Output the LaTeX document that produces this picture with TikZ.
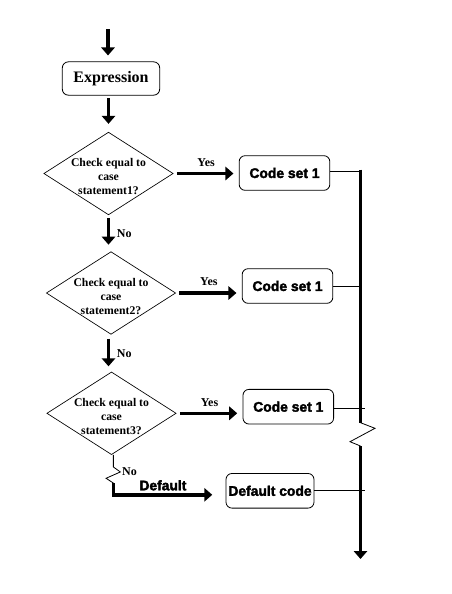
\documentclass[tikz,border=0pt]{standalone}
\usepackage{fontspec}
\setmainfont{Liberation Serif}
\newfontfamily\heavysans{Liberation Sans}[UprightFont={* Bold},FakeBold=2.5]
\usepackage{tikz}
\usetikzlibrary{shapes.geometric, arrows.meta}

\begin{document}
\begin{tikzpicture}[x=0.75pt, y=-0.75pt,
    box/.style={draw, rounded corners=4.5pt, line width=0.6pt, minimum height=26pt},
    codebox/.style={box, minimum width=68pt, inner sep=1pt, font=\heavysans\fontsize{10.4}{12}\selectfont},
    check/.style={diamond, draw, line width=0.5pt, inner sep=-30pt, minimum width=97pt, minimum height=62pt, align=center, font=\bfseries\fontsize{8.8}{10.6}\selectfont},
    flow/.style={line width=2.6pt, -{Triangle[width=10pt,length=6pt]}},
    link/.style={line width=0.6pt},
    lbl/.style={inner sep=1pt, font=\bfseries\fontsize{9}{10}\selectfont}]
        \useasboundingbox (0,0) rectangle (451,594);

        \coordinate (start) at (108,29);
        \node[box, minimum width=73pt, minimum height=25pt, font=\bfseries\fontsize{12}{14}\selectfont] (expr) at (111,78.5) {Expression};

        \node[check] (d1) at (108.5,173.5) {\rule{0pt}{11pt}Check equal to\\case\\statement1?};
        \node[check] (d2) at (111,293) {\rule{0pt}{11pt}Check equal to\\case\\statement2?};
        \node[check] (d3) at (111.5,413.3) {\rule{0pt}{11pt}Check equal to\\case\\statement3?};

        \node[codebox] (c1) at (284.5,173) {Code set 1};
        \node[codebox] (c2) at (287.5,286) {Code set 1};
        \node[codebox] (c3) at (288.3,406.7) {Code set 1};
        \node[codebox, minimum width=66pt] (dflt) at (270,490.8) {Default code};

        \draw[flow, shorten >=4.5pt] (start) -- (start |- expr.north);
        \draw[flow, shorten <=2pt, shorten >=6pt] (expr.south -| d1) -- (d1.north);

        \draw[flow, shorten <=2.5pt, shorten >=4pt] (d1.east) -- node[lbl, above=3pt] (yes1) {Yes} (d1.east -| c1.west);
        \draw[flow, shorten <=2.5pt, shorten >=4pt] (d2.east) -- node[lbl, above=3pt] (yes2) {Yes} (d2.east -| c2.west);
        \draw[flow, shorten <=2.5pt, shorten >=4pt] (d3.east) -- node[lbl, above=3pt] (yes3) {Yes} (d3.east -| c3.west);

        \draw[flow, shorten <=2pt, shorten >=5pt] (d1.south) -- node[lbl, right=4pt] (no1) {No} (d2.north -| d1.south);
        \draw[flow, shorten <=3pt, shorten >=4pt] (d2.south -| d1.south) -- node[lbl, right=4pt] (no2) {No} (d3.north -| d1.south);

        \draw[link] ([xshift=1.4pt]d3.south) -- ++(0,12) -- ++(7,5) node[lbl, right] (no3) {No}
            -- ++(-14.3,6.3) -- ++(7.6,5) coordinate (brk);
        \draw[flow, shorten >=10pt] (brk) |- node[pos=0.72, above=1pt, inner sep=1pt, font=\heavysans\fontsize{10.4}{12}\selectfont] (deflbl) {Default} ([yshift=-3pt]dflt.west);

        \coordinate (ttop) at (360.5,169.5);
        \coordinate (brkA) at (360.5,422.7);
        \coordinate (brkB) at (360.5,446);
        \coordinate (tbot) at (360.5,559);
        \draw[line width=2.5pt] (ttop) -- (brkA);
        \draw[link] (brkA) -- ++(14.5,5.6) -- ++(-25,13.4) -- (brkB);
        \draw[line width=2.5pt, -{Triangle[width=10pt,length=6pt]}] (brkB) -- (tbot);

        \draw[link] ([yshift=1.5pt]c1.east) -- ([yshift=1.5pt]c1.east -| ttop);
        \draw[link] (c2.east) -- (c2.east -| ttop);
        \draw[link] ([yshift=-1pt]c3.east) -- ([xshift=3pt,yshift=-1pt]c3.east -| ttop);
        \draw[link] (dflt.east) -- ([xshift=3pt]dflt.east -| ttop);
    \end{tikzpicture}
\end{document}
